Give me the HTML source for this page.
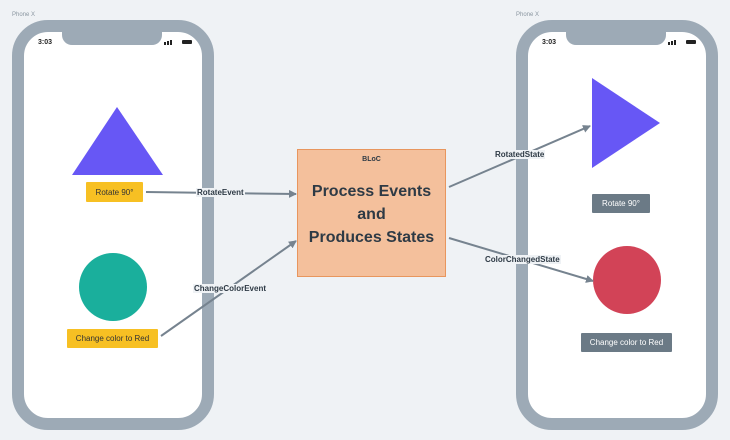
<!DOCTYPE html>
<html><head><style>
body{margin:0;width:730px;height:440px;background:#eff2f5;font-family:"Liberation Sans",sans-serif;position:relative;overflow:hidden}
.a{position:absolute}
.phone{position:absolute;top:20px;width:178px;height:386px;border:12px solid #9daab6;border-radius:36px;background:#fff}
.notch{position:absolute;left:38px;top:-1px;width:100px;height:14px;background:#9daab6;border-radius:0 0 10px 10px}
.t{position:absolute;font-size:7px;font-weight:bold;color:#222;top:7px;left:14px}
.lbl{position:absolute;font-size:6px;color:#8a96a0}
.btn{position:absolute;font-size:8px;display:flex;align-items:center;justify-content:center;border-radius:1px}
.y{background:#f7c023;color:#333}
.g{background:#6b7a86;color:#fff}
.cl{position:absolute;font-size:8px;font-weight:bold;color:#2e3a45;background:#eff2f5;padding:0 1px}
</style></head><body>
<div class="lbl" style="left:12px;top:12px">Phone X</div>
<div class="lbl" style="left:516px;top:12px">Phone X</div>
<div class="phone" style="left:12px"><div class="notch"></div><div class="t">3:03</div></div>
<div class="phone" style="left:516px"><div class="notch"></div><div class="t">3:03</div></div>
<svg class="a" style="left:0;top:0" width="730" height="440">
<g fill="#222"><rect x="164" y="42" width="2" height="3"/><rect x="167" y="41" width="2" height="4"/><rect x="170" y="40" width="2" height="5"/><rect x="182" y="40" width="10" height="4" rx="1"/>
<rect x="668" y="42" width="2" height="3"/><rect x="671" y="41" width="2" height="4"/><rect x="674" y="40" width="2" height="5"/><rect x="686" y="40" width="10" height="4" rx="1"/></g>
<polygon points="117,107 163,175 72,175" fill="#6757f5"/>
<circle cx="113" cy="287" r="34" fill="#1aaf9c"/>
<polygon points="592,78 660,123 592,168" fill="#6757f5"/>
<circle cx="627" cy="280" r="34" fill="#d24357"/>
<defs><marker id="m" markerWidth="8" markerHeight="8" refX="7" refY="4" orient="auto" markerUnits="userSpaceOnUse"><path d="M0,0 L8,4 L0,8 z" fill="#76838f"/></marker></defs>
<g stroke="#76838f" stroke-width="2" fill="none" marker-end="url(#m)">
<line x1="146" y1="192" x2="296" y2="194"/>
<line x1="161" y1="336" x2="296" y2="241"/>
<line x1="449" y1="187" x2="590" y2="126"/>
<line x1="449" y1="238" x2="593" y2="281"/>
</g></svg>
<div class="a" style="left:297px;top:149px;width:147px;height:126px;background:#f4c09c;border:1px solid #e8965e"></div>
<div class="a" style="left:297px;top:156px;width:149px;text-align:center;font-size:7px;font-weight:bold;color:#2e3a45">BLoC</div>
<div class="a" style="left:297px;top:180px;width:149px;text-align:center;font-size:16px;line-height:23px;font-weight:bold;color:#2e3a45">Process Events<br>and<br>Produces States</div>
<div class="btn y" style="left:86px;top:182px;width:57px;height:20px">Rotate 90°</div>
<div class="btn y" style="left:67px;top:329px;width:91px;height:19px">Change color to Red</div>
<div class="btn g" style="left:592px;top:194px;width:58px;height:19px">Rotate 90°</div>
<div class="btn g" style="left:581px;top:333px;width:91px;height:19px">Change color to Red</div>
<div class="cl" style="left:196px;top:188px">RotateEvent</div>
<div class="cl" style="left:193px;top:284px">ChangeColorEvent</div>
<div class="cl" style="left:494px;top:150px">RotatedState</div>
<div class="cl" style="left:484px;top:255px">ColorChangedState</div>
</body></html>
